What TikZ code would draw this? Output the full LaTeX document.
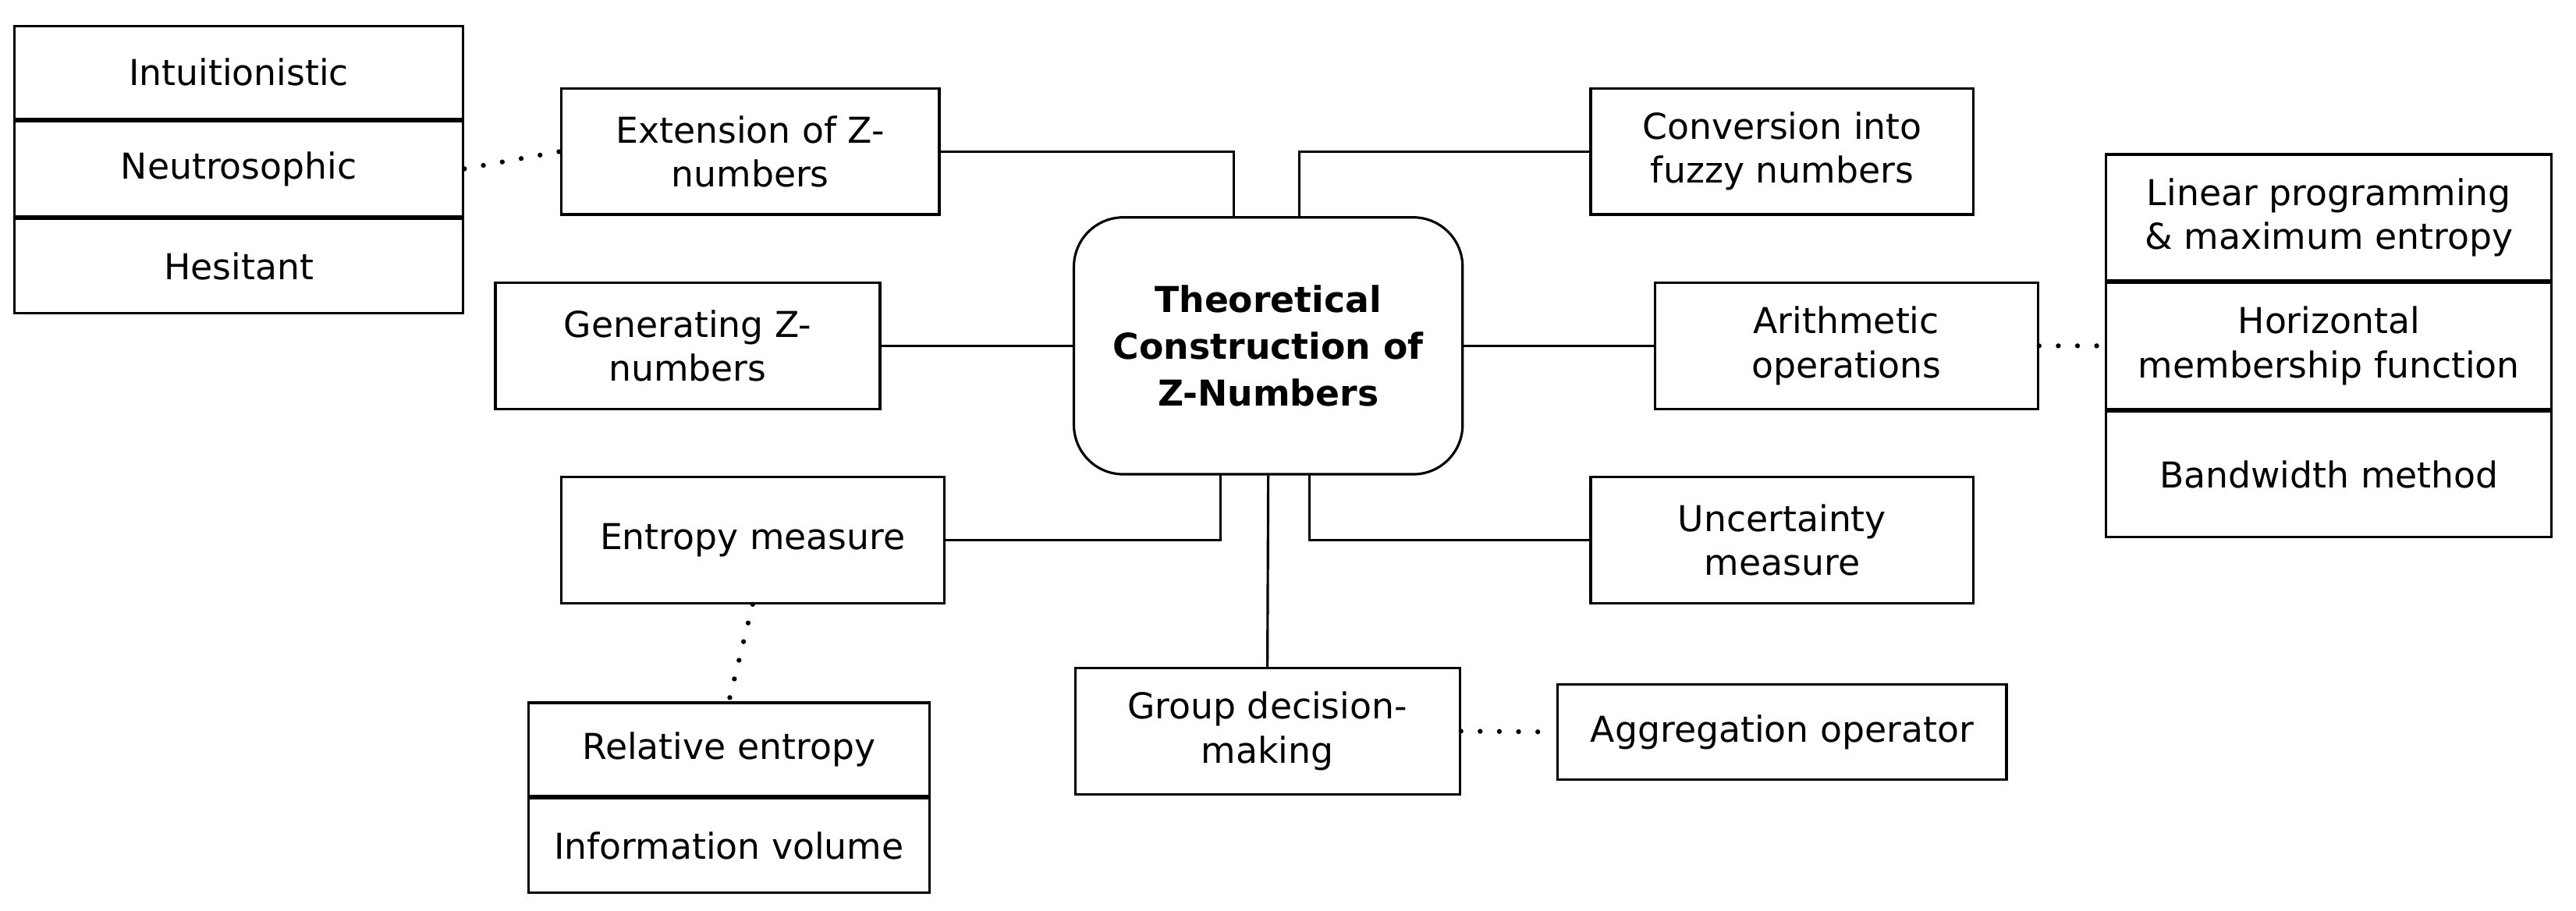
\documentclass[tikz,border=0pt]{standalone}
\usepackage{fontspec}
\setmainfont{DejaVu Sans}
\begin{document}
\begin{tikzpicture}[x=0.02111cm,y=-0.02111cm,
  box/.style={draw,line width=0.9pt,align=center,font=\fontsize{13}{16}\selectfont,inner sep=0pt},
  ln/.style={line width=0.9pt},
  dt/.style={line width=1.8pt,dash pattern=on 0pt off 7pt,line cap=round}]
\useasboundingbox (0,0) rectangle (1564,553);
\newcommand{\bx}[6]{\node[box,minimum width=#4*0.02111cm-0.9pt,minimum height=#5*0.02111cm-0.9pt] (#1) at ({(#2+#4/2)},{(#3+#5/2)}) {#6};}
\bx{a1}{8}{15}{274}{58}{Intuitionistic}
\bx{a2}{8}{73}{274}{59}{Neutrosophic}
\bx{a3}{8}{132}{274}{59}{Hesitant}
\bx{ext}{340}{53}{231}{78}{Extension of Z-\\numbers}
\bx{conv}{965}{53}{234}{78}{Conversion into\\fuzzy numbers}
\node[box,rounded corners=18pt,minimum width=236*0.02111cm,minimum height=156*0.02111cm,font=\fontsize{13}{17}\selectfont\bfseries] (c) at (770,210) {Theoretical\\Construction of\\Z-Numbers};
\bx{r1}{1278}{93}{272}{78}{Linear programming\\\& maximum entropy}
\bx{r2}{1278}{171}{272}{78}{Horizontal\\membership function}
\bx{r3}{1278}{249}{272}{78}{Bandwidth method}
\bx{gen}{300}{171}{235}{78}{Generating Z-\\numbers}
\bx{ari}{1004}{171}{234}{78}{Arithmetic\\operations}
\bx{ent}{340}{289}{234}{78}{Entropy measure}
\bx{unc}{965}{289}{234}{78}{Uncertainty\\measure}
\bx{rel}{320}{426}{245}{58}{Relative entropy}
\bx{inf}{320}{484}{245}{59}{Information volume}
\bx{grp}{652}{405}{235}{78}{Group decision-\\making}
\bx{agg}{945}{415}{274}{59}{Aggregation operator}
\draw[ln] (ext.east) -| (749,132);
\draw[ln] (conv.west) -| (789,132);
\draw[ln] (gen.east) -- (c.west);
\draw[ln] (c.east) -- (ari.west);
\draw[ln] (ent.east) -| (741,288);
\draw[ln] (unc.west) -| (795,288);
\draw[ln] (c.south) -- (grp.north);
\draw[dt] (a2.east) -- (ext.west);
\draw[dt] (ari.east) -- (r2.west);
\draw[dt] (ent.south) -- (rel.north);
\draw[dt] (grp.east) -- (agg.west);
\end{tikzpicture}
\end{document}
